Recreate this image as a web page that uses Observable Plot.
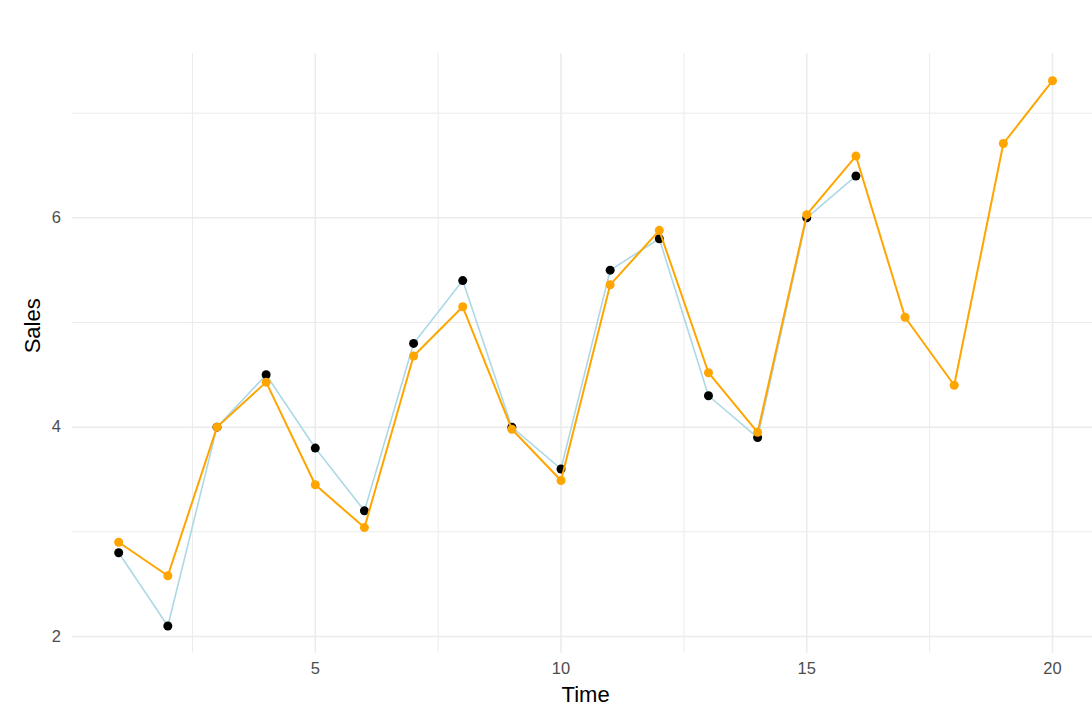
<!DOCTYPE html>
<html>
<head>
<meta charset="utf-8">
<script src="https://cdn.jsdelivr.net/npm/d3@7"></script>
<script src="https://cdn.jsdelivr.net/npm/@observablehq/plot@0.6"></script>
<style>
  html, body { margin: 0; padding: 0; background: #fff; }
  #chart svg { display: block; }
</style>
</head>
<body>
<div id="chart"></div>
<script>
const time = [1, 2, 3, 4, 5, 6, 7, 8, 9, 10, 11, 12, 13, 14, 15, 16, 17, 18, 19, 20];
const actualSales = [2.8, 2.1, 4.0, 4.5, 3.8, 3.2, 4.8, 5.4, 4.0, 3.6, 5.5, 5.8, 4.3, 3.9, 6.0, 6.4];
const fittedSales = [2.9, 2.58, 4.0, 4.43, 3.45, 3.04, 4.68, 5.15, 3.98, 3.49, 5.36, 5.88, 4.52, 3.95, 6.03, 6.59, 5.05, 4.4, 6.71, 7.31];
const xMajor = [5, 10, 15, 20];
const xMinor = [2.5, 7.5, 12.5, 17.5];
const yMajor = [2, 4, 6];
const yMinor = [3, 5, 7];

const actual = actualSales.map((v, i) => ({t: time[i], v}));
const fitted = fittedSales.map((v, i) => ({t: time[i], v}));

const grid = "#ebebeb";
const chart = Plot.plot({
  width: 1092,
  height: 717,
  marginLeft: 71.5,
  marginRight: -6.7,
  marginTop: 53,
  marginBottom: 64.3,
  style: {fontFamily: "Liberation Sans, Arial, sans-serif", background: "#fff"},
  x: {domain: [0.05, 20.95]},
  y: {domain: [1.84, 7.57]},
  marks: [
    Plot.ruleX(xMinor, {stroke: grid, strokeWidth: 1}),
    Plot.ruleY(yMinor, {stroke: grid, strokeWidth: 1}),
    Plot.ruleX(xMajor, {stroke: grid, strokeWidth: 1.5}),
    Plot.ruleY(yMajor, {stroke: grid, strokeWidth: 1.5}),
    Plot.axisX({ticks: xMajor, tickFormat: d => String(d), tickSize: 0, tickPadding: 9, fontSize: 16.5, fill: "#4d4d4d", label: null}),
    Plot.axisY({ticks: yMajor, tickFormat: d => String(d), tickSize: 0, tickPadding: 11, fontSize: 16.5, fill: "#4d4d4d", label: null}),
    Plot.text(["Time"], {frameAnchor: "bottom", dy: 48.5, fontSize: 22, fill: "#000"}),
    Plot.text(["Sales"], {frameAnchor: "left", dx: -39, rotate: -90, fontSize: 22, fill: "#000"}),
    Plot.line(actual, {x: "t", y: "v", stroke: "lightblue", strokeWidth: 1.6}),
    Plot.dot(actual, {x: "t", y: "v", r: 4.5, fill: "black", stroke: "none"}),
    Plot.line(fitted, {x: "t", y: "v", stroke: "orange", strokeWidth: 2}),
    Plot.dot(fitted, {x: "t", y: "v", r: 4.5, fill: "orange", stroke: "none"})
  ]
});
document.getElementById("chart").appendChild(chart);
</script>
</body>
</html>
